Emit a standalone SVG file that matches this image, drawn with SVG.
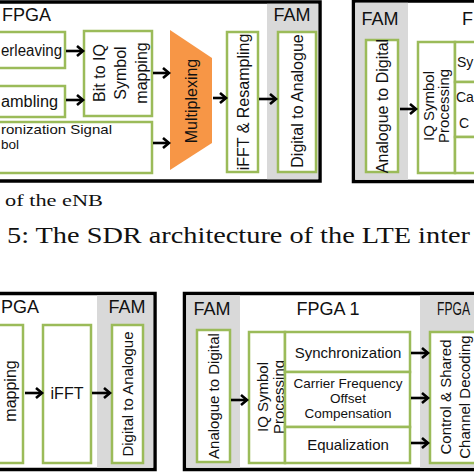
<svg xmlns="http://www.w3.org/2000/svg" width="474" height="474" viewBox="0 0 474 474">
<defs>
<marker id="ah" markerUnits="userSpaceOnUse" markerWidth="12" markerHeight="12" refX="7" refY="6" orient="auto">
<path d="M1,1 L7,6 L1,11" fill="none" stroke="#000" stroke-width="2.6"/>
</marker>
<style>
.frame{fill:#fff;stroke:#000;stroke-width:3.5}
.gray{fill:#d9d9d9}
.box{fill:#fff;stroke:#9bbb59;stroke-width:2.5}
.t{font-family:"Liberation Sans",Arial,sans-serif;fill:#111}
.s18{font-size:18px}
.s16{font-size:16px}
.s15{font-size:15px}
.s14{font-size:14px}
.s13{font-size:13.5px}
.mid{text-anchor:middle}
.c{dominant-baseline:central}
.cap{font-family:"Liberation Serif","Times New Roman",serif;fill:#111}
.arr{stroke:#000;stroke-width:2.6;fill:none;marker-end:url(#ah)}
</style>
</defs>
<rect width="474" height="474" fill="#fff"/>

<!-- Top-left panel (eNB transmitter) -->
<g id="panel-tl">
<rect class="frame" x="-5" y="2" width="325" height="179"/>
<rect class="gray" x="267" y="3.8" width="51.2" height="175.4"/>
<text class="t s18" x="2" y="21">FPGA</text>
<text class="t s18 mid" x="292" y="21">FAM</text>
</g>
<g id="interleaving">
<rect class="box" x="-5" y="32" width="70" height="36"/>
<text class="t s16" x="1" y="56" textLength="61" lengthAdjust="spacingAndGlyphs">erleaving</text>
</g>
<g id="scrambling">
<rect class="box" x="-5" y="86" width="70" height="31"/>
<text class="t s16" x="1" y="107" textLength="57" lengthAdjust="spacingAndGlyphs">ambling</text>
</g>
<g id="sync-signal">
<rect class="box" x="-5" y="122" width="157" height="51"/>
<text class="t s13" x="1" y="134" textLength="111" lengthAdjust="spacingAndGlyphs">ronization Signal</text>
<text class="t s13" x="1" y="149">bol</text>
</g>
<g id="bit-to-iq">
<rect class="box" x="84" y="31" width="68" height="85"/>
<text class="t s16 mid c" transform="rotate(-90 99 73)" x="99" y="73">Bit to IQ</text>
<text class="t s16 mid c" transform="rotate(-90 120 73)" x="120" y="73">Symbol</text>
<text class="t s16 mid c" transform="rotate(-90 141 73)" x="141" y="73">mapping</text>
</g>
<g id="multiplexing">
<polygon points="170,30 212,58 212,143 170,170" fill="#f79646"/>
<text class="t s16 mid c" transform="rotate(-90 191 101)" x="191" y="101">Multiplexing</text>
</g>
<g id="ifft-resampling">
<rect class="box" x="227" y="32" width="31" height="140"/>
<text class="t s16 mid c" transform="rotate(-90 243 102)" x="243" y="102">iFFT &amp; Resampling</text>
</g>
<g id="d2a-top">
<rect class="box" x="278" y="32" width="38" height="140"/>
<text class="t s16 mid c" transform="rotate(-90 297 101)" x="297" y="101">Digital to Analogue</text>
</g>

<!-- Top-right panel (receiver) -->
<g id="panel-tr">
<rect class="frame" x="353.5" y="1" width="130" height="180.5"/>
<rect class="gray" x="355.2" y="2.8" width="52.8" height="177"/>
<text class="t s18 mid" x="380" y="25">FAM</text>
<text class="t s18" x="462" y="25">F</text>
</g>
<g id="a2d-top">
<rect class="box" x="366" y="40" width="32" height="132"/>
<text class="t s16 mid c" transform="rotate(-90 382 106)" x="382" y="106">Analogue to Digital</text>
</g>
<g id="iq-proc-top">
<rect class="box" x="418" y="42" width="37" height="131"/>
<text class="t s15 mid c" transform="rotate(-90 428 106)" x="428" y="106">IQ Symbol</text>
<text class="t s15 mid c" transform="rotate(-90 443 106)" x="443" y="106">Processing</text>
</g>
<g id="sync-top">
<rect class="box" x="455" y="42" width="30" height="40"/>
<text class="t s14" x="457" y="67">Sy</text>
</g>
<g id="cfo-top">
<rect class="box" x="455" y="82" width="30" height="55"/>
<text class="t s14" x="456" y="102">Ca</text>
<text class="t s14" x="459" y="128">C</text>
</g>
<g id="eq-top">
<rect class="box" x="455" y="137" width="30" height="36"/>
</g>

<!-- Caption -->
<g id="caption">
<text class="cap" x="5" y="206" font-size="16" textLength="98" lengthAdjust="spacingAndGlyphs">of the eNB</text>
<text class="cap" x="7" y="243" font-size="22.5" textLength="463" lengthAdjust="spacingAndGlyphs">5: The SDR architecture of the LTE inter</text>
</g>

<!-- Bottom-left panel -->
<g id="panel-bl">
<rect class="frame" x="-5" y="293.5" width="160" height="176"/>
<rect class="gray" x="97" y="295.2" width="56.2" height="172.6"/>
<text class="t s18" x="1" y="313">PGA</text>
<text class="t s18 mid" x="127" y="313">FAM</text>
</g>
<g id="mapping-bl">
<rect class="box" x="-5" y="325" width="28" height="138"/>
<text class="t s16 mid c" transform="rotate(-90 10 391)" x="10" y="391">mapping</text>
</g>
<g id="ifft-bl">
<rect class="box" x="43" y="325" width="48" height="138"/>
<text class="t s16 mid" x="67" y="399">iFFT</text>
</g>
<g id="d2a-bl">
<rect class="box" x="112" y="325" width="31" height="138"/>
<text class="t s15 mid c" transform="rotate(-90 127 394)" x="127" y="394">Digital to Analogue</text>
</g>

<!-- Bottom-right panel -->
<g id="panel-br">
<rect class="frame" x="184.5" y="293.5" width="300" height="176"/>
<rect class="gray" x="186.2" y="295.2" width="53.8" height="172.6"/>
<rect class="gray" x="420" y="295.2" width="56" height="172.6"/>
<text class="t s18 mid" x="212" y="315">FAM</text>
<text class="t s18 mid" x="328" y="315">FPGA 1</text>
<text class="t s18" x="437" y="315" textLength="33" lengthAdjust="spacingAndGlyphs">FPGA</text>
</g>
<g id="a2d-br">
<rect class="box" x="197" y="330" width="33" height="132"/>
<text class="t s15 mid c" transform="rotate(-90 213 396)" x="213" y="396">Analogue to Digital</text>
</g>
<g id="iq-proc-br">
<rect class="box" x="249" y="332" width="36" height="131"/>
<text class="t s15 mid c" transform="rotate(-90 262 397)" x="262" y="397">IQ Symbol</text>
<text class="t s15 mid c" transform="rotate(-90 278 397)" x="278" y="397">Processing</text>
</g>
<g id="sync-br">
<rect class="box" x="285" y="332" width="125" height="40"/>
<text class="t s15 mid" x="348" y="358">Synchronization</text>
</g>
<g id="cfo-br">
<rect class="box" x="285" y="372" width="125" height="55"/>
<text class="t s13 mid" x="348" y="388">Carrier Frequency</text>
<text class="t s13 mid" x="348" y="403">Offset</text>
<text class="t s13 mid" x="348" y="418">Compensation</text>
</g>
<g id="eq-br">
<rect class="box" x="285" y="427" width="125" height="36"/>
<text class="t s15 mid" x="348" y="450">Equalization</text>
</g>
<g id="control-br">
<rect class="box" x="430" y="332" width="50" height="131"/>
<text class="t s15 mid c" transform="rotate(-90 445 397)" x="445" y="397">Control &amp; Shared</text>
<text class="t s15 mid c" transform="rotate(-90 464 397)" x="464" y="397">Channel Decoding</text>
</g>

<!-- Connectors -->
<g id="connectors">
<line class="arr" x1="66" y1="51" x2="83" y2="51"/>
<line class="arr" x1="66" y1="100" x2="83" y2="100"/>
<line class="arr" x1="153" y1="73" x2="169" y2="73"/>
<line class="arr" x1="153" y1="143" x2="169" y2="143"/>
<line class="arr" x1="213" y1="98" x2="226" y2="98"/>
<line class="arr" x1="259" y1="99" x2="276" y2="99"/>
<line class="arr" x1="400" y1="109" x2="416" y2="109"/>
<line class="arr" x1="25" y1="393" x2="42" y2="393"/>
<line class="arr" x1="92" y1="393" x2="110" y2="393"/>
<line class="arr" x1="231" y1="400" x2="247" y2="400"/>
<line class="arr" x1="411" y1="353" x2="428" y2="353"/>
<line class="arr" x1="411" y1="398" x2="428" y2="398"/>
<line class="arr" x1="411" y1="443" x2="428" y2="443"/>
</g>
</svg>
